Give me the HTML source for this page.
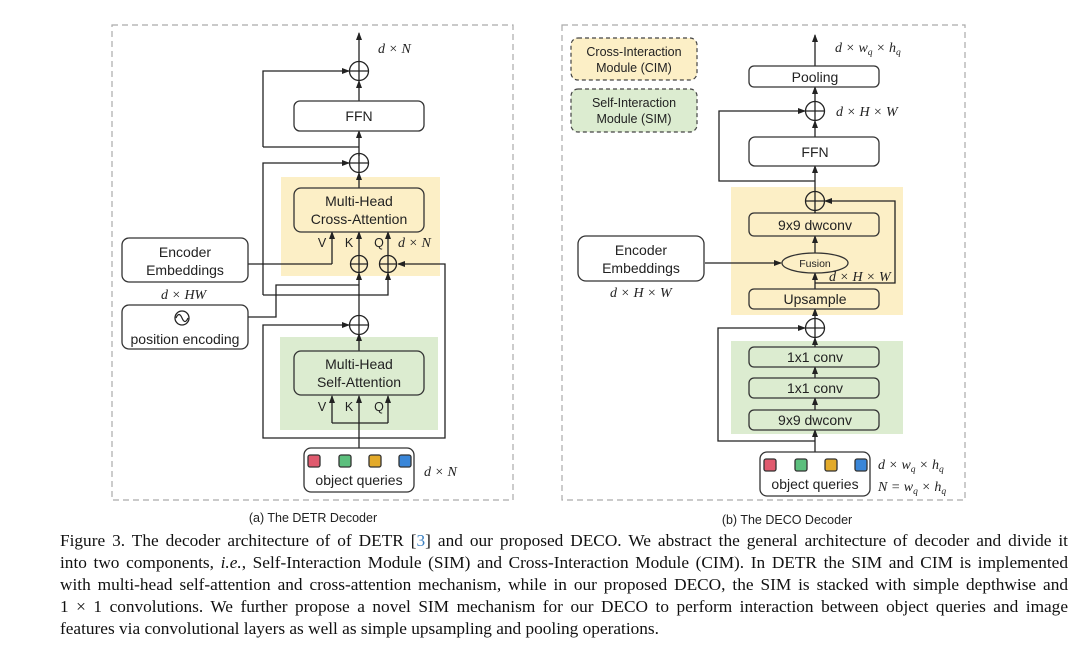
<!DOCTYPE html>
<html><head><meta charset="utf-8"><style>
body{margin:0;background:#fff;width:1080px;height:658px;overflow:hidden;position:relative}
svg{position:absolute;left:0;top:0}
.cap{position:absolute;left:60px;width:1008px;font-family:"Liberation Serif",serif;font-size:17.3px;color:#111;line-height:22px;top:530px;text-align:justify;text-align-last:left}
.cap span.l{display:block;text-align:justify;text-align-last:justify;white-space:nowrap}
</style></head><body>
<svg width="1080" height="658" viewBox="0 0 1080 658" font-family="Liberation Sans, sans-serif">
<defs><marker id="a" markerWidth="8" markerHeight="8" refX="7" refY="4" orient="auto" markerUnits="userSpaceOnUse"><path d="M0,1 L8,4 L0,7Z" fill="#222"/></marker></defs>
<g fill="none" stroke="#aaa" stroke-dasharray="6,4" stroke-width="1.2">
<rect x="112" y="25" width="401" height="475"/>
<rect x="562" y="25" width="403" height="475"/>
</g>
<!-- LEFT -->
<rect x="281" y="177" width="159" height="99" fill="#fcefc6"/>
<rect x="280" y="337" width="158" height="93" fill="#dcecd0"/>
<g stroke="#222" stroke-width="1.3" fill="none">
<line x1="359" y1="61" x2="359" y2="33" marker-end="url(#a)"/>
<polyline points="263,147 263,71 349,71" marker-end="url(#a)"/>
<line x1="359" y1="101" x2="359" y2="81" marker-end="url(#a)"/>
<line x1="359" y1="156" x2="359" y2="131" marker-end="url(#a)"/>
<line x1="263" y1="147" x2="359" y2="147"/>
<polyline points="263,295 263,163 349,163" marker-end="url(#a)"/>
<line x1="359" y1="188" x2="359" y2="173" marker-end="url(#a)"/>
<line x1="248" y1="264" x2="332" y2="264"/>
<line x1="332" y1="264" x2="332" y2="232" marker-end="url(#a)"/>
<line x1="359" y1="255" x2="359" y2="232" marker-end="url(#a)"/>
<line x1="388" y1="255" x2="388" y2="232" marker-end="url(#a)"/>
<polyline points="263,295 388,295 388,273" marker-end="url(#a)"/>
<line x1="359" y1="316" x2="359" y2="273" marker-end="url(#a)"/>
<polyline points="189,317 276,317 276,285 359,285"/>
<polyline points="359,448 359,423"/>
<polyline points="332,423 388,423"/>
<line x1="332" y1="423" x2="332" y2="396" marker-end="url(#a)"/>
<line x1="359" y1="423" x2="359" y2="396" marker-end="url(#a)"/>
<line x1="388" y1="423" x2="388" y2="396" marker-end="url(#a)"/>
<line x1="359" y1="351" x2="359" y2="334" marker-end="url(#a)"/>
<polyline points="359,438 263,438 263,325 349,325" marker-end="url(#a)"/>
<polyline points="359,438 445,438 445,264 398,264" marker-end="url(#a)"/>
</g>
<g stroke="#222" stroke-width="1.3" fill="none">
<circle cx="359" cy="71" r="9.5"/><path d="M349.5,71h19M359,61.5v19"/>
<circle cx="359" cy="163" r="9.5"/><path d="M349.5,163h19M359,153.5v19"/>
<circle cx="359" cy="264" r="8.5"/><path d="M350.5,264h17M359,255.5v17"/>
<circle cx="388" cy="264" r="8.5"/><path d="M379.5,264h17M388,255.5v17"/>
<circle cx="359" cy="325" r="9.5"/><path d="M349.5,325h19M359,315.5v19"/>
</g>
<g stroke="#333" stroke-width="1.3">
<rect x="294" y="101" width="130" height="30" rx="6" fill="#fff"/>
<rect x="294" y="188" width="130" height="44" rx="7" fill="#fcefc6"/>
<rect x="122" y="238" width="126" height="44" rx="7" fill="#fff"/>
<rect x="122" y="305" width="126" height="44" rx="7" fill="#fff"/>
<rect x="294" y="351" width="130" height="44" rx="7" fill="#dcecd0"/>
<rect x="304" y="448" width="110" height="44" rx="7" fill="#fff"/>
<rect x="308" y="455" width="12" height="12" rx="2" fill="#e05a6e"/>
<rect x="339" y="455" width="12" height="12" rx="2" fill="#5cbf7d"/>
<rect x="369" y="455" width="12" height="12" rx="2" fill="#e3aa2a"/>
<rect x="399" y="455" width="12" height="12" rx="2" fill="#3a86d8"/>
</g>
<circle cx="182" cy="318" r="7" fill="#fff" stroke="#222" stroke-width="1.3"/>
<path d="M176,318 q3,-7 6,0 t6,0" fill="none" stroke="#222" stroke-width="1.2"/>
<g font-size="14" fill="#222" text-anchor="middle">
<text x="359" y="121">FFN</text>
<text x="359" y="206">Multi-Head</text><text x="359" y="224">Cross-Attention</text>
<text x="185" y="257">Encoder</text><text x="185" y="275">Embeddings</text>
<text x="185" y="344">position encoding</text>
<text x="359" y="369">Multi-Head</text><text x="359" y="387">Self-Attention</text>
<text x="359" y="485">object queries</text>
<text font-size="12.5" x="322" y="247">V</text><text font-size="12.5" x="349" y="247">K</text><text font-size="12.5" x="379" y="247">Q</text>
<text font-size="12.5" x="322" y="411">V</text><text font-size="12.5" x="349" y="411">K</text><text font-size="12.5" x="379" y="411">Q</text>
<text font-size="12.5" x="313" y="522">(a) The DETR Decoder</text>
</g>
<g font-family="Liberation Serif, serif" font-style="italic" font-size="14" fill="#222">
<text x="378" y="53">d × N</text>
<text x="398" y="247">d × N</text>
<text x="161" y="299">d × HW</text>
<text x="424" y="476">d × N</text>
</g>
<!-- RIGHT -->
<rect x="731" y="187" width="172" height="128" fill="#fcefc6"/>
<rect x="731" y="341" width="172" height="93" fill="#dcecd0"/>
<rect x="571" y="38" width="126" height="42" rx="7" fill="#fcefc6" stroke="#444" stroke-dasharray="4,3" stroke-width="1.2"/>
<rect x="571" y="89" width="126" height="43" rx="7" fill="#dcecd0" stroke="#444" stroke-dasharray="4,3" stroke-width="1.2"/>
<g stroke="#222" stroke-width="1.3" fill="none">
<line x1="815" y1="66" x2="815" y2="35" marker-end="url(#a)"/>
<line x1="815" y1="101" x2="815" y2="87" marker-end="url(#a)"/>
<line x1="815" y1="137" x2="815" y2="121" marker-end="url(#a)"/>
<polyline points="815,181 719,181 719,111 805,111" marker-end="url(#a)"/>
<line x1="815" y1="191" x2="815" y2="166" marker-end="url(#a)"/>
<line x1="815" y1="213" x2="815" y2="211" marker-end="url(#a)"/>
<line x1="815" y1="253" x2="815" y2="236" marker-end="url(#a)"/>
<line x1="705" y1="263" x2="781" y2="263" marker-end="url(#a)"/>
<line x1="815" y1="289" x2="815" y2="273" marker-end="url(#a)"/>
<polyline points="815,283 895,283 895,201 825,201" marker-end="url(#a)"/>
<line x1="815" y1="318" x2="815" y2="309" marker-end="url(#a)"/>
<line x1="815" y1="347" x2="815" y2="338" marker-end="url(#a)"/>
<line x1="815" y1="378" x2="815" y2="367" marker-end="url(#a)"/>
<line x1="815" y1="410" x2="815" y2="398" marker-end="url(#a)"/>
<line x1="815" y1="452" x2="815" y2="430" marker-end="url(#a)"/>
<polyline points="815,441 718,441 718,328 805,328" marker-end="url(#a)"/>
</g>
<g stroke="#222" stroke-width="1.3" fill="none">
<circle cx="815" cy="111" r="9.5"/><path d="M805.5,111h19M815,101.5v19"/>
<circle cx="815" cy="201" r="9.5"/><path d="M805.5,201h19M815,191.5v19"/>
<circle cx="815" cy="328" r="9.5"/><path d="M805.5,328h19M815,318.5v19"/>
</g>
<g stroke="#333" stroke-width="1.3">
<rect x="749" y="66" width="130" height="21" rx="5" fill="#fff"/>
<rect x="749" y="137" width="130" height="29" rx="6" fill="#fff"/>
<rect x="749" y="213" width="130" height="23" rx="5" fill="#fcefc6"/>
<ellipse cx="815" cy="263" rx="33" ry="10" fill="#fcefc6"/>
<rect x="578" y="236" width="126" height="45" rx="8" fill="#fff"/>
<rect x="749" y="289" width="130" height="20" rx="5" fill="#fcefc6"/>
<rect x="749" y="347" width="130" height="20" rx="5" fill="#dcecd0"/>
<rect x="749" y="378" width="130" height="20" rx="5" fill="#dcecd0"/>
<rect x="749" y="410" width="130" height="20" rx="5" fill="#dcecd0"/>
<rect x="760" y="452" width="110" height="44" rx="7" fill="#fff"/>
<rect x="764" y="459" width="12" height="12" rx="2" fill="#e05a6e"/>
<rect x="795" y="459" width="12" height="12" rx="2" fill="#5cbf7d"/>
<rect x="825" y="459" width="12" height="12" rx="2" fill="#e3aa2a"/>
<rect x="855" y="459" width="12" height="12" rx="2" fill="#3a86d8"/>
</g>
<g font-size="14" fill="#222" text-anchor="middle">
<text x="815" y="82">Pooling</text>
<text x="815" y="157">FFN</text>
<text x="815" y="230">9x9 dwconv</text>
<text x="815" y="267" font-size="10.5">Fusion</text>
<text x="641" y="255">Encoder</text><text x="641" y="273">Embeddings</text>
<text x="815" y="304">Upsample</text>
<text x="815" y="362">1x1 conv</text>
<text x="815" y="393">1x1 conv</text>
<text x="815" y="425">9x9 dwconv</text>
<text x="815" y="489">object queries</text>
<text font-size="12.5" x="634" y="56">Cross-Interaction</text><text font-size="12.5" x="634" y="72">Module (CIM)</text>
<text font-size="12.5" x="634" y="107">Self-Interaction</text><text font-size="12.5" x="634" y="123">Module (SIM)</text>
<text font-size="12.5" x="787" y="524">(b) The DECO Decoder</text>
</g>
<g font-family="Liberation Serif, serif" font-style="italic" font-size="14" fill="#222">
<text x="835" y="52">d × w<tspan font-size="9.5" dy="3">q</tspan><tspan dy="-3"> × h</tspan><tspan font-size="9.5" dy="3">q</tspan></text>
<text x="836" y="116">d × H × W</text>
<text x="829" y="281">d × H × W</text>
<text x="610" y="297">d × H × W</text>
<text x="878" y="469">d × w<tspan font-size="9.5" dy="3">q</tspan><tspan dy="-3"> × h</tspan><tspan font-size="9.5" dy="3">q</tspan></text>
<text x="878" y="491">N = w<tspan font-size="9.5" dy="3">q</tspan><tspan dy="-3"> × h</tspan><tspan font-size="9.5" dy="3">q</tspan></text>
</g>
</svg>
<div class="cap">
<span class="l">Figure 3. The decoder architecture of of DETR [<span style="color:#3a7fc1">3</span>] and our proposed DECO. We abstract the general architecture of decoder and divide it</span>
<span class="l">into two components, <i>i.e.</i>, Self-Interaction Module (SIM) and Cross-Interaction Module (CIM). In DETR the SIM and CIM is implemented</span>
<span class="l">with multi-head self-attention and cross-attention mechanism, while in our proposed DECO, the SIM is stacked with simple depthwise and</span>
<span class="l">1 × 1 convolutions. We further propose a novel SIM mechanism for our DECO to perform interaction between object queries and image</span>
<span style="display:block">features via convolutional layers as well as simple upsampling and pooling operations.</span>
</div>
</body></html>
